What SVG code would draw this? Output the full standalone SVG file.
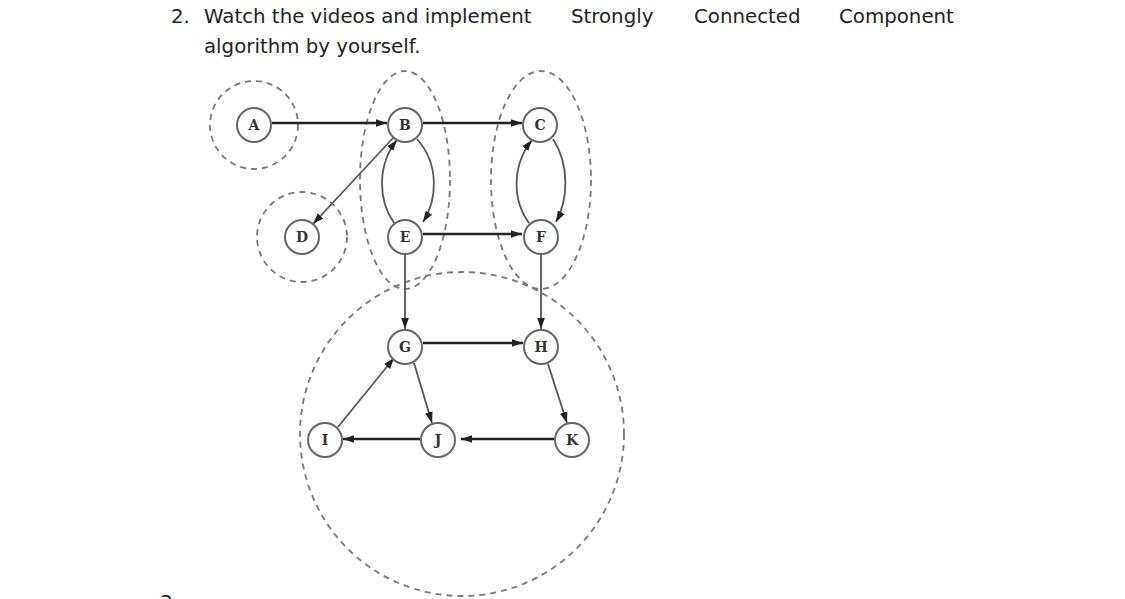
<svg xmlns="http://www.w3.org/2000/svg" width="1125" height="599" viewBox="0 0 1125 599">
<style>
.t{font-family:"DejaVu Sans",sans-serif;font-size:19.8px;fill:#222}
.n circle{fill:#fff;stroke:#666;stroke-width:2}
.n text{font-family:"DejaVu Serif","Liberation Serif",serif;font-size:14px;font-weight:bold;fill:#333;text-anchor:middle}
.d{fill:none;stroke:#777;stroke-width:1.8;stroke-dasharray:6,5}
.e{fill:none;stroke:#555;stroke-width:1.8}
.h{stroke-width:2.5;stroke:#222}
</style>
<defs><marker id="a" viewBox="0 0 10 10" refX="10" refY="5" markerWidth="11" markerHeight="11" markerUnits="userSpaceOnUse" orient="auto"><path d="M0,1.5 L10,5 L0,8.5z" fill="#222"/></marker></defs>
<rect width="1125" height="599" fill="#fff"/>
<text class="t" x="171" y="23">2.</text>
<text class="t" x="204" y="23">Watch the videos and implement</text>
<text class="t" x="571" y="23">Strongly</text>
<text class="t" x="694" y="23">Connected</text>
<text class="t" x="839" y="23">Component</text>
<text class="t" x="204" y="53">algorithm by yourself.</text>
<text class="t" x="160" y="609">3</text>
<g id="sccs">
<circle class="d" cx="254" cy="125" r="44"/>
<circle class="d" cx="302" cy="237" r="45"/>
<ellipse class="d" cx="405" cy="180" rx="45" ry="109"/>
<ellipse class="d" cx="541" cy="180" rx="50" ry="109"/>
<circle class="d" cx="462" cy="434" r="162"/>
</g>
<g id="connectors">
<line class="e h" x1="272" y1="123" x2="387" y2="123" marker-end="url(#a)"/>
<line class="e h" x1="423" y1="123" x2="522" y2="123" marker-end="url(#a)"/>
<line class="e" x1="393" y1="138" x2="313" y2="224" marker-end="url(#a)"/>
<path class="e" d="M417,139 C440,165 437,200 423,222" marker-end="url(#a)"/>
<path class="e" d="M394,223 C378,200 377,165 397,140" marker-end="url(#a)"/>
<path class="e" d="M553,139 C570,165 568,200 556,222" marker-end="url(#a)"/>
<path class="e" d="M529,223 C512,200 512,165 532,140" marker-end="url(#a)"/>
<line class="e h" x1="423" y1="234" x2="522" y2="234" marker-end="url(#a)"/>
<line class="e" x1="405" y1="255" x2="405" y2="329" marker-end="url(#a)"/>
<line class="e" x1="541" y1="255" x2="541" y2="329" marker-end="url(#a)"/>
<line class="e h" x1="423" y1="343" x2="523" y2="343" marker-end="url(#a)"/>
<line class="e" x1="414" y1="363" x2="432" y2="423" marker-end="url(#a)"/>
<line class="e" x1="548" y1="364" x2="567" y2="423" marker-end="url(#a)"/>
<line class="e h" x1="420" y1="439" x2="343" y2="439" marker-end="url(#a)"/>
<line class="e h" x1="554" y1="439" x2="461" y2="439" marker-end="url(#a)"/>
<line class="e" x1="338" y1="427" x2="394" y2="358" marker-end="url(#a)"/>
</g>
<g id="A" class="n"><circle cx="254" cy="125" r="17"/><text x="254" y="130">A</text></g>
<g id="B" class="n"><circle cx="405" cy="125" r="17"/><text x="405" y="130">B</text></g>
<g id="C" class="n"><circle cx="540" cy="125" r="17"/><text x="540" y="130">C</text></g>
<g id="D" class="n"><circle cx="302" cy="237" r="17"/><text x="302" y="242">D</text></g>
<g id="E" class="n"><circle cx="405" cy="237" r="17"/><text x="405" y="242">E</text></g>
<g id="F" class="n"><circle cx="541" cy="237" r="17"/><text x="541" y="242">F</text></g>
<g id="G" class="n"><circle cx="405" cy="347" r="17"/><text x="405" y="352">G</text></g>
<g id="H" class="n"><circle cx="541" cy="347" r="17"/><text x="541" y="352">H</text></g>
<g id="I" class="n"><circle cx="325" cy="440" r="17"/><text x="325" y="445">I</text></g>
<g id="J" class="n"><circle cx="438" cy="440" r="17"/><text x="438" y="445">J</text></g>
<g id="K" class="n"><circle cx="572" cy="440" r="17"/><text x="572" y="445">K</text></g>
</svg>
